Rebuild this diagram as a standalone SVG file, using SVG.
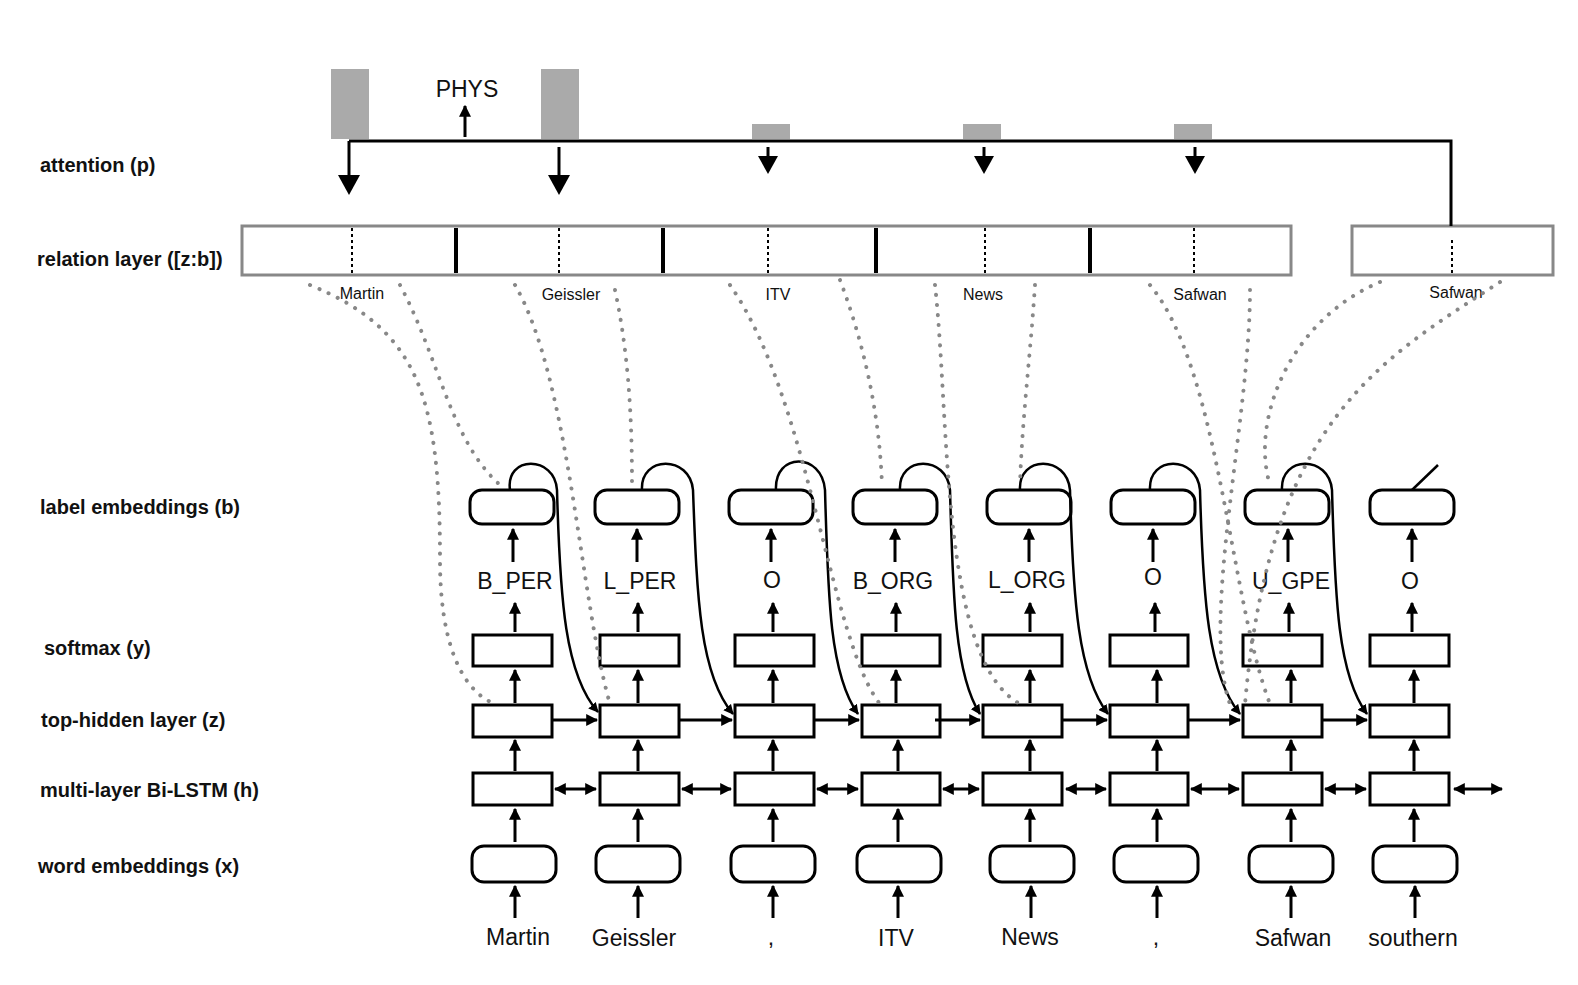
<svg xmlns="http://www.w3.org/2000/svg" width="1578" height="985" viewBox="0 0 1578 985">
<defs>
<marker id="ah" viewBox="0 0 10 10" refX="9" refY="5" markerWidth="4" markerHeight="4" orient="auto-start-reverse"><path d="M0,0 L10,5 L0,10 z" fill="#000"/></marker>
<marker id="ahb" viewBox="0 0 10 10" refX="9" refY="5" markerWidth="4" markerHeight="4" orient="auto"><path d="M0,0 L10,5 L0,10 z" fill="#000"/></marker>
<style>
.lbl{font-family:"Liberation Sans",Arial,sans-serif;font-size:20px;font-weight:bold;fill:#111}
.t{font-family:"Liberation Sans",Arial,sans-serif;font-size:23px;fill:#111;text-anchor:middle}
.s{font-family:"Liberation Sans",Arial,sans-serif;font-size:16px;fill:#111;text-anchor:middle}
.box{fill:#fff;stroke:#000;stroke-width:3}
.rbox{fill:#fff;stroke:#000;stroke-width:3}
.ar{stroke:#000;stroke-width:3;fill:none;marker-end:url(#ah)}
.dar{stroke:#000;stroke-width:3;fill:none;marker-end:url(#ah);marker-start:url(#ah)}
.dot{stroke:#888;stroke-width:4;stroke-dasharray:0.1 10;stroke-linecap:round;fill:none}
.bar{fill:#aaa}
.cur{stroke:#000;stroke-width:2.5;fill:none;marker-end:url(#ahb)}
</style>
</defs>
<rect width="1578" height="985" fill="#fff"/>
<g id="labels">
<text class="lbl" x="40" y="172">attention (p)</text>
<text class="lbl" x="37" y="266">relation layer ([z:b])</text>
<text class="lbl" x="40" y="514">label embeddings (b)</text>
<text class="lbl" x="44" y="655">softmax (y)</text>
<text class="lbl" x="41" y="727">top-hidden layer (z)</text>
<text class="lbl" x="40" y="797">multi-layer Bi-LSTM (h)</text>
<text class="lbl" x="38" y="873">word embeddings (x)</text>
</g>
<g id="attention">
<rect class="bar" x="331" y="69" width="38" height="70"/>
<rect class="bar" x="541" y="69" width="38" height="70"/>
<rect class="bar" x="752" y="124" width="38" height="15"/>
<rect class="bar" x="963" y="124" width="38" height="15"/>
<rect class="bar" x="1174" y="124" width="38" height="15"/>
<text class="t" x="467" y="97">PHYS</text>
</g>
<g id="relation">
<rect x="242" y="226" width="1049" height="49" fill="#fff" stroke="#888" stroke-width="3"/>
<rect x="1352" y="226" width="201" height="49" fill="#fff" stroke="#888" stroke-width="3"/>
<g stroke="#000" stroke-width="4"><line x1="456" y1="228" x2="456" y2="273"/><line x1="663" y1="228" x2="663" y2="273"/><line x1="876" y1="228" x2="876" y2="273"/><line x1="1090" y1="228" x2="1090" y2="273"/></g>
<g stroke="#000" stroke-width="2" stroke-dasharray="3 3"><line x1="352" y1="228" x2="352" y2="273"/><line x1="559" y1="228" x2="559" y2="273"/><line x1="768" y1="228" x2="768" y2="273"/><line x1="985" y1="228" x2="985" y2="273"/><line x1="1194" y1="228" x2="1194" y2="273"/><line x1="1452" y1="240" x2="1452" y2="273"/></g>
<text class="s" x="362" y="299">Martin</text>
<text class="s" x="571" y="300">Geissler</text>
<text class="s" x="778" y="300">ITV</text>
<text class="s" x="983" y="300">News</text>
<text class="s" x="1200" y="300">Safwan</text>
<text class="s" x="1456" y="298">Safwan</text>
</g>
<g id="nodes">
<g id="col1"><rect class="rbox" x="470" y="490" width="84" height="34" rx="12"/><rect class="box" x="473" y="635" width="79" height="31"/><rect class="box" x="473" y="705" width="79" height="32"/><rect class="box" x="473" y="773" width="79" height="32"/><rect class="rbox" x="472" y="846" width="84" height="36" rx="12"/><text class="t" x="515" y="589">B_PER</text><text class="t" x="518" y="945">Martin</text></g>
<g id="col2"><rect class="rbox" x="595" y="490" width="84" height="34" rx="12"/><rect class="box" x="600" y="635" width="79" height="31"/><rect class="box" x="600" y="705" width="79" height="32"/><rect class="box" x="600" y="773" width="79" height="32"/><rect class="rbox" x="596" y="846" width="84" height="36" rx="12"/><text class="t" x="640" y="589">L_PER</text><text class="t" x="634" y="946">Geissler</text></g>
<g id="col3"><rect class="rbox" x="729" y="490" width="84" height="34" rx="12"/><rect class="box" x="735" y="635" width="79" height="31"/><rect class="box" x="735" y="705" width="79" height="32"/><rect class="box" x="735" y="773" width="79" height="32"/><rect class="rbox" x="731" y="846" width="84" height="36" rx="12"/><text class="t" x="772" y="588">O</text><text class="t" x="771" y="945">,</text></g>
<g id="col4"><rect class="rbox" x="853" y="490" width="84" height="34" rx="12"/><rect class="box" x="862" y="635" width="78" height="31"/><rect class="box" x="862" y="705" width="78" height="32"/><rect class="box" x="862" y="773" width="78" height="32"/><rect class="rbox" x="857" y="846" width="84" height="36" rx="12"/><text class="t" x="893" y="589">B_ORG</text><text class="t" x="896" y="946">ITV</text></g>
<g id="col5"><rect class="rbox" x="987" y="490" width="84" height="34" rx="12"/><rect class="box" x="983" y="635" width="79" height="31"/><rect class="box" x="983" y="705" width="79" height="32"/><rect class="box" x="983" y="773" width="79" height="32"/><rect class="rbox" x="990" y="846" width="84" height="36" rx="12"/><text class="t" x="1027" y="588">L_ORG</text><text class="t" x="1030" y="945">News</text></g>
<g id="col6"><rect class="rbox" x="1111" y="490" width="84" height="34" rx="12"/><rect class="box" x="1110" y="635" width="78" height="31"/><rect class="box" x="1110" y="705" width="78" height="32"/><rect class="box" x="1110" y="773" width="78" height="32"/><rect class="rbox" x="1114" y="846" width="84" height="36" rx="12"/><text class="t" x="1153" y="585">O</text><text class="t" x="1156" y="945">,</text></g>
<g id="col7"><rect class="rbox" x="1245" y="490" width="84" height="34" rx="12"/><rect class="box" x="1243" y="635" width="79" height="31"/><rect class="box" x="1243" y="705" width="79" height="32"/><rect class="box" x="1243" y="773" width="79" height="32"/><rect class="rbox" x="1249" y="846" width="84" height="36" rx="12"/><text class="t" x="1291" y="589">U_GPE</text><text class="t" x="1293" y="946">Safwan</text></g>
<g id="col8"><rect class="rbox" x="1370" y="490" width="84" height="34" rx="12"/><rect class="box" x="1370" y="635" width="79" height="31"/><rect class="box" x="1370" y="705" width="79" height="32"/><rect class="box" x="1370" y="773" width="79" height="32"/><rect class="rbox" x="1373" y="846" width="84" height="36" rx="12"/><text class="t" x="1410" y="589">O</text><text class="t" x="1413" y="946">southern</text></g>
</g>
<g id="connectors">
<path d="M349,141 H1451 V226" stroke="#000" stroke-width="3" fill="none"/>
<path class="ar" d="M465,137 V106"/>
<path d="M349,141 V178" stroke="#000" stroke-width="3"/><path d="M338,175 L360,175 L349,195 z"/>
<path d="M559,147 V178" stroke="#000" stroke-width="3"/><path d="M548,175 L570,175 L559,195 z"/>
<path d="M768,147 V158" stroke="#000" stroke-width="3"/><path d="M758,156 L778,156 L768,174 z"/>
<path d="M984,147 V158" stroke="#000" stroke-width="3"/><path d="M974,156 L994,156 L984,174 z"/>
<path d="M1195,147 V158" stroke="#000" stroke-width="3"/><path d="M1185,156 L1205,156 L1195,174 z"/>
<g id="vert">
<path class="ar" d="M515,918 V886"/><path class="ar" d="M515,842 V809"/><path class="ar" d="M515,771 V740"/><path class="ar" d="M515,703 V670"/><path class="ar" d="M515,632 V603"/><path class="ar" d="M513,562 V529"/>
<path class="ar" d="M638,918 V886"/><path class="ar" d="M638,842 V809"/><path class="ar" d="M638,771 V740"/><path class="ar" d="M638,703 V670"/><path class="ar" d="M638,632 V603"/><path class="ar" d="M637,562 V529"/>
<path class="ar" d="M773,918 V886"/><path class="ar" d="M773,842 V809"/><path class="ar" d="M773,771 V740"/><path class="ar" d="M773,703 V670"/><path class="ar" d="M773,632 V603"/><path class="ar" d="M771,562 V529"/>
<path class="ar" d="M898,918 V886"/><path class="ar" d="M898,842 V809"/><path class="ar" d="M898,771 V740"/><path class="ar" d="M896,703 V670"/><path class="ar" d="M896,632 V603"/><path class="ar" d="M895,562 V529"/>
<path class="ar" d="M1031,918 V886"/><path class="ar" d="M1030,842 V809"/><path class="ar" d="M1030,771 V740"/><path class="ar" d="M1030,703 V670"/><path class="ar" d="M1030,632 V603"/><path class="ar" d="M1029,562 V529"/>
<path class="ar" d="M1157,918 V886"/><path class="ar" d="M1157,842 V809"/><path class="ar" d="M1157,771 V740"/><path class="ar" d="M1157,703 V670"/><path class="ar" d="M1155,632 V603"/><path class="ar" d="M1153,562 V529"/>
<path class="ar" d="M1291,918 V886"/><path class="ar" d="M1291,842 V809"/><path class="ar" d="M1291,771 V740"/><path class="ar" d="M1291,703 V670"/><path class="ar" d="M1289,632 V603"/><path class="ar" d="M1288,562 V529"/>
<path class="ar" d="M1415,918 V886"/><path class="ar" d="M1414,842 V809"/><path class="ar" d="M1414,771 V740"/><path class="ar" d="M1414,703 V670"/><path class="ar" d="M1412,632 V603"/><path class="ar" d="M1412,562 V529"/>
</g>
<g id="horiz">
<path class="ar" d="M553,720 H597"/><path class="ar" d="M680,720 H732"/><path class="ar" d="M815,720 H859"/><path class="ar" d="M935,720 H980"/><path class="ar" d="M1063,720 H1107"/><path class="ar" d="M1189,720 H1240"/><path class="ar" d="M1323,720 H1367"/>
<path class="dar" d="M555,789 H596"/><path class="dar" d="M682,789 H731"/><path class="dar" d="M817,789 H858"/><path class="dar" d="M943,789 H979"/><path class="dar" d="M1066,789 H1106"/><path class="dar" d="M1191,789 H1239"/><path class="dar" d="M1325,789 H1366"/><path class="dar" d="M1454,789 H1502"/>
</g>
<g id="loops">
<path class="cur" d="M510,490 C505,455 555,455 557,490 C560,600 565,675 598,712"/>
<path class="cur" d="M642,490 C640,455 690,455 693,490 C697,600 700,675 733,714"/>
<path class="cur" d="M776,490 C774,452 822,452 825,490 C828,600 830,675 858,714"/>
<path class="cur" d="M900,490 C898,455 947,455 950,490 C953,600 955,675 980,714"/>
<path class="cur" d="M1020,490 C1018,455 1067,455 1070,490 C1073,600 1078,675 1108,714"/>
<path class="cur" d="M1150,490 C1148,455 1197,455 1200,490 C1203,600 1208,675 1240,714"/>
<path class="cur" d="M1282,490 C1280,455 1329,455 1332,490 C1335,600 1338,675 1367,714"/>
<line x1="1412" y1="490" x2="1438" y2="465" stroke="#000" stroke-width="2.5"/>
</g>
<g id="dotted">
<path class="dot" d="M310,285 C420,330 440,400 440,560 C440,640 460,690 495,704"/>
<path class="dot" d="M400,285 C440,360 450,440 500,485"/>
<path class="dot" d="M515,285 C570,380 580,600 610,704"/>
<path class="dot" d="M615,290 C630,360 632,430 632,485"/>
<path class="dot" d="M730,285 C810,400 830,640 880,704"/>
<path class="dot" d="M840,280 C870,360 880,430 882,485"/>
<path class="dot" d="M935,285 C950,420 940,660 1020,704"/>
<path class="dot" d="M1035,285 C1030,360 1022,420 1020,485"/>
<path class="dot" d="M1150,285 C1220,370 1230,600 1270,704"/>
<path class="dot" d="M1250,290 C1250,420 1200,620 1230,704"/>
<path class="dot" d="M1380,282 C1290,320 1250,420 1270,485"/>
<path class="dot" d="M1500,282 C1380,360 1270,420 1245,704"/>
</g>
</g>
</svg>
